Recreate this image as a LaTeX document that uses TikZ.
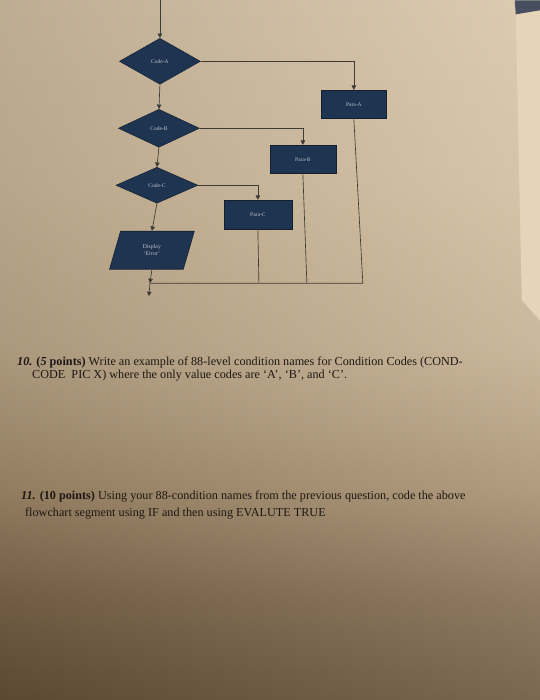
\documentclass[tikz,border=0pt]{standalone}
\usepackage{fontspec}
\setmainfont{Liberation Serif}
\usetikzlibrary{shapes.geometric,arrows.meta}
\definecolor{navy}{RGB}{31,52,80}
\definecolor{navyedge}{RGB}{20,32,48}
\definecolor{boxtext}{RGB}{188,194,204}
\definecolor{wirecol}{RGB}{62,58,52}
\definecolor{ink}{RGB}{30,24,20}
\definecolor{pA}{RGB}{216,197,168}
\definecolor{pB}{RGB}{210,189,158}
\definecolor{pC}{RGB}{196,174,142}
\definecolor{pD}{RGB}{166,142,110}
\definecolor{pE}{RGB}{128,104,76}
\definecolor{pF}{RGB}{104,83,59}
\definecolor{strip}{RGB}{230,212,186}
\definecolor{backdrop}{RGB}{70,78,96}
\pgfdeclareverticalshading{paper}{100bp}{color(0bp)=(pF); color(25bp)=(pF); color(32bp)=(pE); color(40bp)=(pD); color(50bp)=(pC); color(62bp)=(pB); color(75bp)=(pA); color(100bp)=(pA)}
\tikzset{
  decision/.style={diamond, draw=navyedge, fill=navy, line width=0.5pt, inner sep=0pt,
    text=boxtext, font=\fontsize{5.5}{6}\selectfont, minimum width=81pt},
  process/.style={rectangle, draw=navyedge, fill=navy, line width=0.6pt, inner sep=0pt,
    text=boxtext, font=\fontsize{5.5}{6}\selectfont, minimum width=66pt, minimum height=28pt},
  iobox/.style={trapezium, trapezium left angle=74, trapezium right angle=106,
    trapezium stretches=true, draw=navyedge, fill=navy, line width=0.6pt, inner sep=0pt,
    text=boxtext, font=\fontsize{5.8}{7}\selectfont, align=center,
    minimum width=85pt, minimum height=38pt},
  wire/.style={draw=wirecol, line width=0.65pt},
  flow/.style={wire, -{Triangle[width=4.5pt,length=4.5pt]}},
  question/.style={anchor=west, text=ink, font=\fontsize{12.2}{13}\selectfont, inner sep=0pt}
}
\begin{document}
\begin{tikzpicture}[x=1pt,y=-1pt]
% paper background
\shade[shading=paper] (0,0) rectangle (540,700);
\shade[left color=black, right color=white, opacity=0.12] (0,0) rectangle (540,700);
\fill[strip] (516,14) -- (540,10) -- (540,320) -- (522,300) -- cycle;
\fill[backdrop] (515,0) -- (540,0) -- (540,10) -- (516,14) -- cycle;

% flowchart nodes
\coordinate (start) at (160,0);
\node[decision, minimum height=46pt] (codeA) at (160,61) {Code-A};
\node[decision, minimum height=38pt] (codeB) at (159,128) {Code-B};
\node[decision, minimum height=36pt, minimum width=82pt] (codeC) at (157,185) {Code-C};
\node[iobox] (disp) at (152,250) {Display\\‘Error’};
\node[process, minimum width=65pt] (paraA) at (354,104) {Para-A};
\node[process] (paraB) at (303,159) {Para-B};
\node[process, minimum width=68pt, minimum height=29pt] (paraC) at (258,214.5) {Para-C};

\coordinate (jD) at (150,283);
\coordinate (jC) at (259,283);
\coordinate (jB) at (307,283);
\coordinate (jA) at (363,283);
\coordinate (exit) at (149,296);

% connectors
\draw[flow] (start) -- (codeA.north);
\draw[flow] (codeA.south) -- (codeB.north);
\draw[flow] (codeB.south) -- (codeC.north);
\draw[flow] (codeC.south) -- (disp.north);
\draw[flow] (codeA.east) -| (paraA.north);
\draw[flow] (codeB.east) -| (paraB.north);
\draw[flow] (codeC.east) -| (paraC.north);
\draw[wire] (paraA.south) -- (jA) -- (jD);
\draw[wire] (paraB.south) -- (jB);
\draw[wire] (paraC.south) -- (jC);
\draw[flow] (disp.south) -- (jD);
\draw[flow] (jD) -- (exit);

% questions
\node[question] (q10a) at (17,362) {\textbf{\textit{10.} (\textit{5} points)} Write an example of 88-level condition names for Condition Codes (COND-};
\node[question] (q10b) at (32,375) {CODE\ \ PIC X) where the only value codes are ‘A’, ‘B’, and ‘C’.};
\node[question] (q11a) at (21,496) {\textbf{\textit{11.} (10 points)} Using your 88-condition names from the previous question, code the above};
\node[question] (q11b) at (25,513) {flowchart segment using IF and then using EVALUTE TRUE};
\end{tikzpicture}
\end{document}
